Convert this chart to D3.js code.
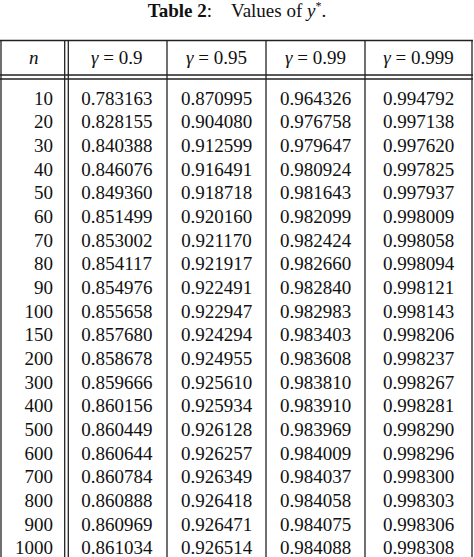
<!DOCTYPE html>
<html><head><meta charset="utf-8">
<script src="https://cdn.jsdelivr.net/npm/d3@7"></script>
<style>body{margin:0;background:#fff}svg text{font-family:'Liberation Serif','DejaVu Serif',serif;fill:#111}</style>
</head><body><div id="c"></div>
<script>
const nValues = [10,20,30,40,50,60,70,80,90,100,150,200,300,400,500,600,700,800,900,1000]
const gammaLabels = ['0.9','0.95','0.99','0.999']
const g90 = ['0.783163','0.828155','0.840388','0.846076','0.849360','0.851499','0.853002','0.854117','0.854976','0.855658','0.857680','0.858678','0.859666','0.860156','0.860449','0.860644','0.860784','0.860888','0.860969','0.861034']
const g95 = ['0.870995','0.904080','0.912599','0.916491','0.918718','0.920160','0.921170','0.921917','0.922491','0.922947','0.924294','0.924955','0.925610','0.925934','0.926128','0.926257','0.926349','0.926418','0.926471','0.926514']
const g99 = ['0.964326','0.976758','0.979647','0.980924','0.981643','0.982099','0.982424','0.982660','0.982840','0.982983','0.983403','0.983608','0.983810','0.983910','0.983969','0.984009','0.984037','0.984058','0.984075','0.984088']
const g999 = ['0.994792','0.997138','0.997620','0.997825','0.997937','0.998009','0.998058','0.998094','0.998121','0.998143','0.998206','0.998237','0.998267','0.998281','0.998290','0.998296','0.998300','0.998303','0.998306','0.998308']
const series = [g90, g95, g99, g999]

const width = 474, height = 557
const svg = d3.select('#c').append('svg').attr('width', width).attr('height', height)
  .attr('font-family', "'Liberation Serif', 'DejaVu Serif', serif")

const colEdges = [1, 66.5, 167, 266, 365, 472]
const y = d3.scaleBand().domain(d3.range(nValues.length)).range([87, 560])

svg.append('text').attr('x', 237).attr('y', 17).attr('text-anchor', 'middle').attr('font-size', 19)
  .html('<tspan font-weight="bold">Table 2</tspan>:\u2003Values of <tspan font-style="italic">y</tspan><tspan font-size="12" dy="-7">*</tspan><tspan dy="7">.</tspan>')

const line = (x1, y1, x2, y2) => svg.append('line').attr('x1', x1).attr('y1', y1).attr('x2', x2).attr('y2', y2)
  .attr('stroke', '#222').attr('stroke-width', 1.3)

line(0, 40.5, 473, 40.5)
line(0, 75, 473, 75)
line(0, 79, 473, 79)
colEdges.forEach((x, i) => {
  if (i === 1) { line(x - 1.8, 40, x - 1.8, 557); line(x + 1.8, 40, x + 1.8, 557) }
  else line(x, 40, x, 557)
})

const center = i => (colEdges[i] + colEdges[i + 1]) / 2
const headY = 64
svg.append('text').attr('x', center(0)).attr('y', headY).attr('text-anchor', 'middle').attr('font-size', 19)
  .attr('font-style', 'italic').text('n')
gammaLabels.forEach((g, i) => {
  svg.append('text').attr('x', center(i + 1)).attr('y', headY).attr('text-anchor', 'middle').attr('font-size', 19)
    .html(`<tspan font-style="italic">γ</tspan> = ${g}`)
})

const rows = svg.selectAll('g.row').data(nValues).join('g').attr('class', 'row')
  .attr('transform', (d, i) => `translate(0,${y(i) + y.bandwidth() / 2 + 6})`)
rows.append('text').attr('x', 53).attr('text-anchor', 'end').attr('font-size', 19).text(d => d)
series.forEach((s, k) => {
  rows.append('text').attr('x', center(k + 1)).attr('text-anchor', 'middle').attr('font-size', 19)
    .text((d, i) => s[i])
})
</script></body></html>
